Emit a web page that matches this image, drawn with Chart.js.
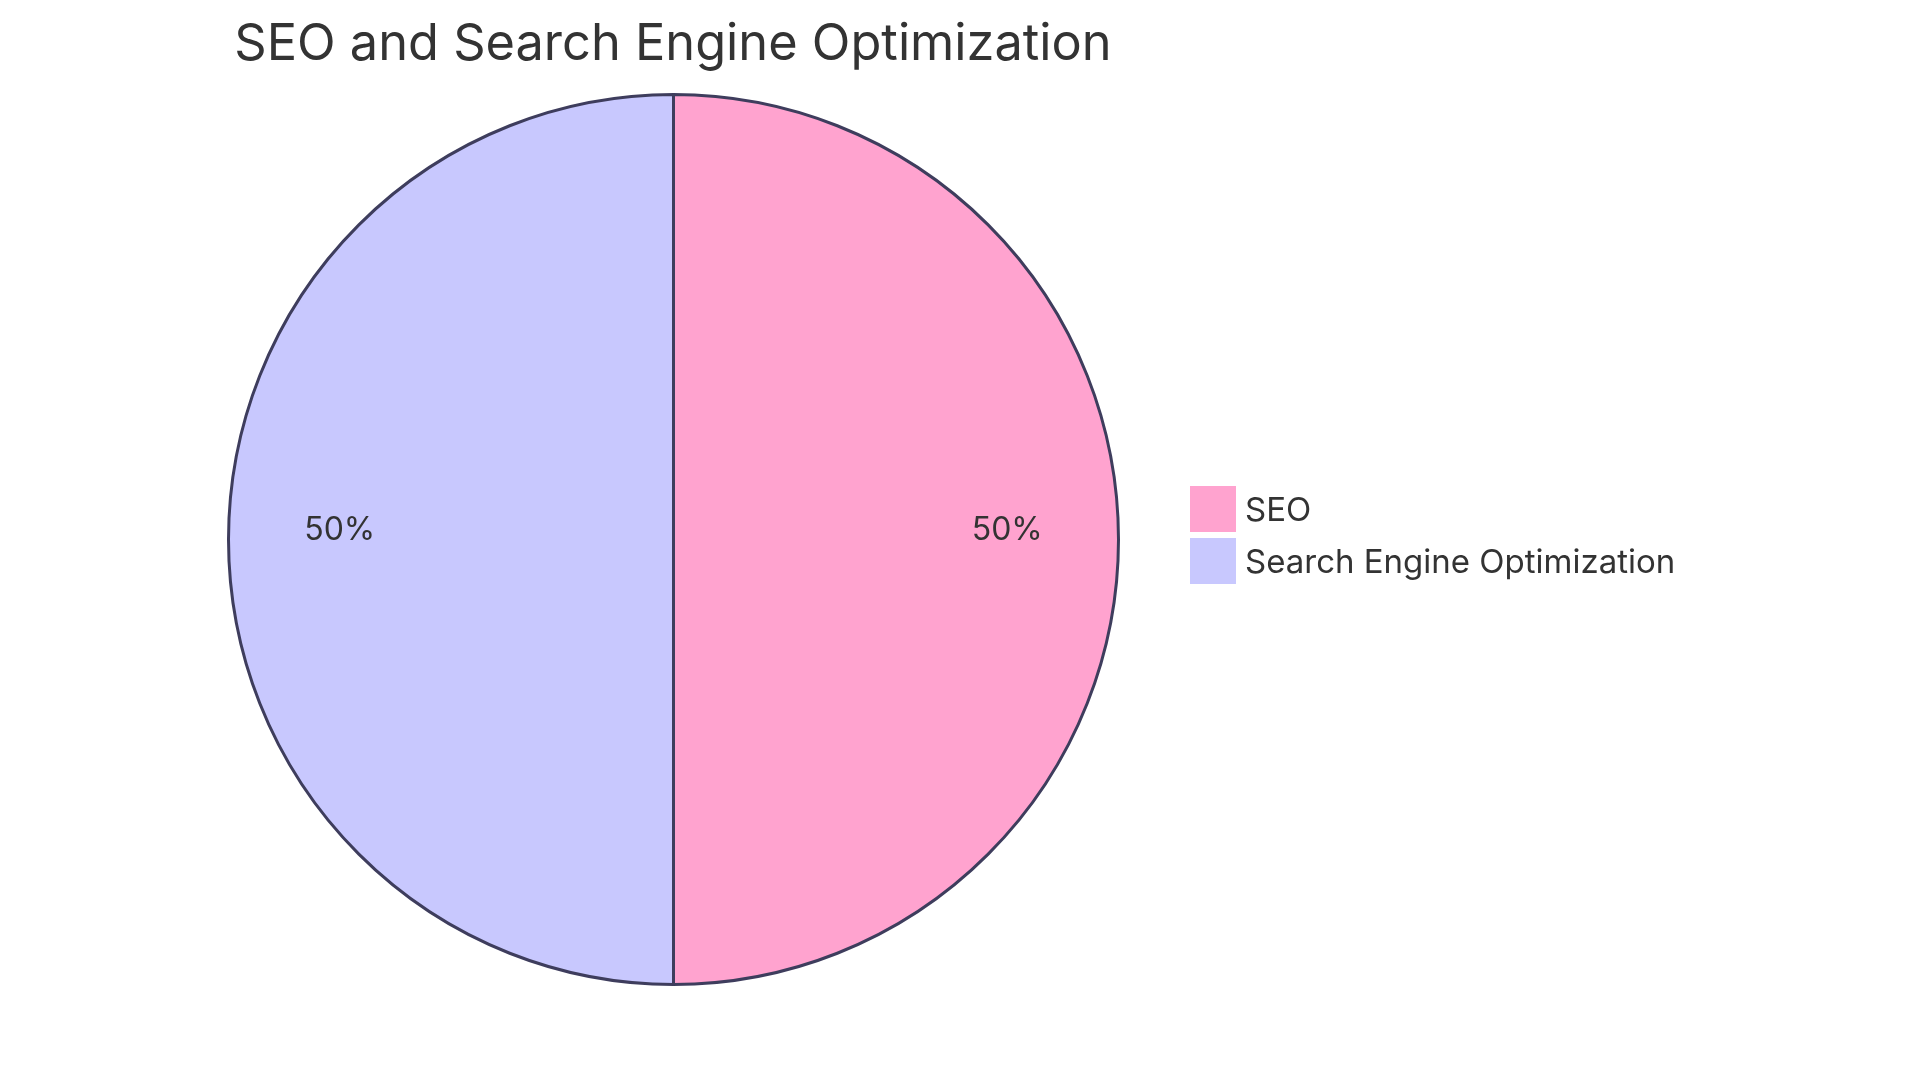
<!DOCTYPE html>
<html>
<head>
<meta charset="utf-8">
<script src="https://cdn.jsdelivr.net/npm/chart.js@4"></script>
<style>
    body { margin: 0; background: #fff; font-family: Inter, 'Noto Sans', sans-serif; }
    .wrap { position: relative; width: 1920px; height: 1080px; }
    #pie-chart { position: absolute; left: 0; top: 0; }
    .title {
        position: absolute; left: 0; top: 16px; width: 1346px;
        text-align: center; font-size: 50.5px; line-height: 52px; color: #333;
    }
    .legend { position: absolute; left: 1190px; top: 486px; }
    .legend-row { display: flex; align-items: center; height: 46px; margin-bottom: 6px; }
    .legend-box { width: 46px; height: 46px; margin-right: 9px; }
    .legend-label { font-size: 33px; line-height: 48px; color: #333; white-space: nowrap; }
</style>
</head>
<body>
<div class="wrap">
    <canvas id="pie-chart" width="1920" height="1080"></canvas>
    <div class="title" id="title"></div>
    <div class="legend" id="legend"></div>
</div>
<script>
const TITLE = 'SEO and Search Engine Optimization';
const labels = ['SEO', 'Search Engine Optimization'];
const values = [50, 50];
const colors = ['#ffa3cf', '#c8c8fe'];

document.getElementById('title').textContent = TITLE;

document.getElementById('legend').innerHTML = labels.map((name, i) => `
    <div class="legend-row">
        <div class="legend-box" style="background:${colors[i]}"></div>
        <div class="legend-label">${name}</div>
    </div>
`).join('');

// percent labels at 3/4 of the radius, baseline on the arc centroid
const percentLabels = {
    id: 'percentLabels',
    afterDatasetsDraw(chart) {
        const ctx = chart.ctx;
        const total = values.reduce((a, b) => a + b, 0);
        ctx.save();
        ctx.font = '32px Inter, sans-serif';
        ctx.fillStyle = '#333';
        ctx.textAlign = 'center';
        ctx.textBaseline = 'alphabetic';
        chart.getDatasetMeta(0).data.forEach((arc, i) => {
            const p = arc.getProps(['x', 'y', 'startAngle', 'endAngle', 'outerRadius'], true);
            const mid = (p.startAngle + p.endAngle) / 2;
            const r = p.outerRadius * 0.75;
            const pct = Math.round(values[i] / total * 100) + '%';
            ctx.fillText(pct, p.x + Math.cos(mid) * r, p.y + Math.sin(mid) * r);
        });
        ctx.restore();
    }
};

new Chart(document.getElementById('pie-chart'), {
    type: 'pie',
    data: {
        labels,
        datasets: [{
            data: values,
            backgroundColor: colors,
            borderColor: '#3e3d5d',
            borderWidth: 3,
            hoverOffset: 0
        }]
    },
    options: {
        responsive: false,
        animation: false,
        layout: { padding: { left: 227, right: 800, top: 93, bottom: 94 } },
        plugins: {
            legend: { display: false },
            title: { display: false },
            tooltip: { enabled: false }
        }
    },
    plugins: [percentLabels]
});
</script>
</body>
</html>
